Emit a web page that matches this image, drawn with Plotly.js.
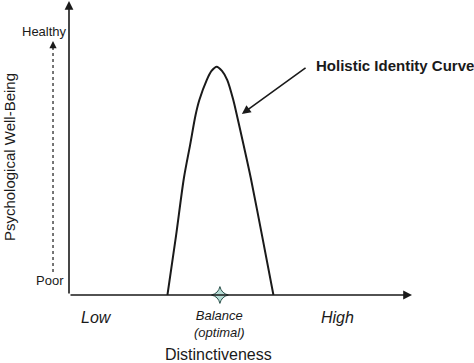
<!DOCTYPE html>
<html>
<head>
<meta charset="utf-8">
<script src="https://cdn.plot.ly/plotly-3.0.1.min.js"></script>
<style>html,body{margin:0;padding:0;background:#fff;}#chart{width:474px;height:363px;}</style>
</head>
<body>
<div id="chart"></div>
<script>
// Holistic identity curve (distinctiveness 0-100, well-being 0-100)
const distinctiveness = [28.7, 31.2, 33.5, 35.3, 36.9, 38.0, 40.15, 41.55, 43.06, 44.6, 46.15, 47.9, 48.8, 50.9, 53.0, 56.3, 59.6];
const wellBeing       = [0, 20.1, 39.8, 51.0, 61.2, 66.3, 73.1, 76.2, 77.65, 76.2, 73.1, 66.3, 61.9, 51.0, 39.8, 20.1, 0];
const balancePoint = [44.0];
const balanceLevel = [0];
const xLabels = ['Low', 'High'];
const xLabelPos = [0.079, 0.784];   // paper fraction along the x axis
const yLabels = ['Poor', 'Healthy'];
const yLabelPos = [5.1, 89.5];

const FONT = 'Arial, "Liberation Sans", sans-serif';
const INK = '#1a1a1a';

const traces = [
  {x: distinctiveness, y: wellBeing, type: 'scatter', mode: 'lines',
   line: {color: INK, width: 2, shape: 'spline', smoothing: 0.8}, hoverinfo: 'skip'},
  {x: balancePoint, y: balanceLevel, type: 'scatter', mode: 'markers', cliponaxis: false,
   marker: {symbol: 'star-diamond', size: 12, color: '#b7ddd6', line: {color: '#2b4f4a', width: 1}}, hoverinfo: 'skip'}
];

const ann = [];
// axis arrows
ann.push({x: 0, y: 100, ax: 0, ay: 0, xref: 'x', yref: 'y', axref: 'x', ayref: 'y', text: '', showarrow: true,
  arrowhead: 2, arrowsize: 1.1, arrowwidth: 1.6, arrowcolor: INK});
ann.push({x: 100, y: 0, ax: 0, ay: 0, xref: 'x', yref: 'y', axref: 'x', ayref: 'y', text: '', showarrow: true,
  arrowhead: 2, arrowsize: 1.1, arrowwidth: 1.6, arrowcolor: INK});
// dotted arrow head
ann.push({x: -0.0466, y: 0.864, xref: 'paper', yref: 'paper', ax: 0, ay: 9, text: '', showarrow: true,
  arrowhead: 2, arrowsize: 1.2, arrowwidth: 1.2, arrowcolor: INK});
// pointer arrow
ann.push({x: 50.4, y: 61.6, ax: 69.4, ay: 77.6, xref: 'x', yref: 'y', axref: 'x', ayref: 'y', text: '', showarrow: true,
  arrowhead: 2, arrowsize: 1.1, arrowwidth: 1.6, arrowcolor: INK});
ann.push({x: 71.4, y: 78.2, xref: 'x', yref: 'y', text: '<b>Holistic Identity Curve</b>', showarrow: false,
  xanchor: 'left', yanchor: 'middle', font: {family: FONT, size: 15, color: INK}});
// y labels
for (let i = 0; i < yLabels.length; i++) {
  ann.push({x: 0, y: yLabelPos[i], xref: 'x', yref: 'y', text: yLabels[i], showarrow: false,
    xanchor: 'right', yanchor: 'middle', xshift: i === 0 ? -3 : 0, font: {family: FONT, size: 13, color: INK}});
}
// x labels
for (let i = 0; i < xLabels.length; i++) {
  ann.push({x: xLabelPos[i], y: -0.078, xref: 'paper', yref: 'paper', text: '<i>' + xLabels[i] + '</i>', showarrow: false,
    xanchor: 'center', yanchor: 'middle', font: {family: FONT, size: 16, color: INK}});
}
ann.push({x: 0.440, y: -0.097, xref: 'paper', yref: 'paper', text: '<i>Balance<br>(optimal)</i>', showarrow: false,
  xanchor: 'center', yanchor: 'middle', font: {family: FONT, size: 13, color: INK}});
ann.push({x: 0.437, y: -0.203, xref: 'paper', yref: 'paper', text: 'Distinctiveness', showarrow: false,
  xanchor: 'center', yanchor: 'middle', font: {family: FONT, size: 16, color: INK}});
ann.push({x: -0.175, y: 0.469, xref: 'paper', yref: 'paper', text: 'Psychological Well-Being', showarrow: false, textangle: -90,
  xanchor: 'center', yanchor: 'middle', font: {family: FONT, size: 15, color: INK}});

const layout = {
  width: 474, height: 363,
  margin: {l: 69, r: 62, t: 1, b: 68, pad: 0},
  paper_bgcolor: '#fff', plot_bgcolor: '#fff',
  showlegend: false,
  xaxis: {range: [0, 100], visible: false, fixedrange: true},
  yaxis: {range: [0, 100], visible: false, fixedrange: true},
  shapes: [
    {type: 'line', xref: 'paper', yref: 'paper', x0: -0.0466, x1: -0.0466, y0: 0.078, y1: 0.84,
     line: {color: INK, width: 1.2, dash: 'dot'}}
  ],
  annotations: ann
};

Plotly.newPlot('chart', traces, layout, {staticPlot: true, displayModeBar: false});
</script>
</body>
</html>
